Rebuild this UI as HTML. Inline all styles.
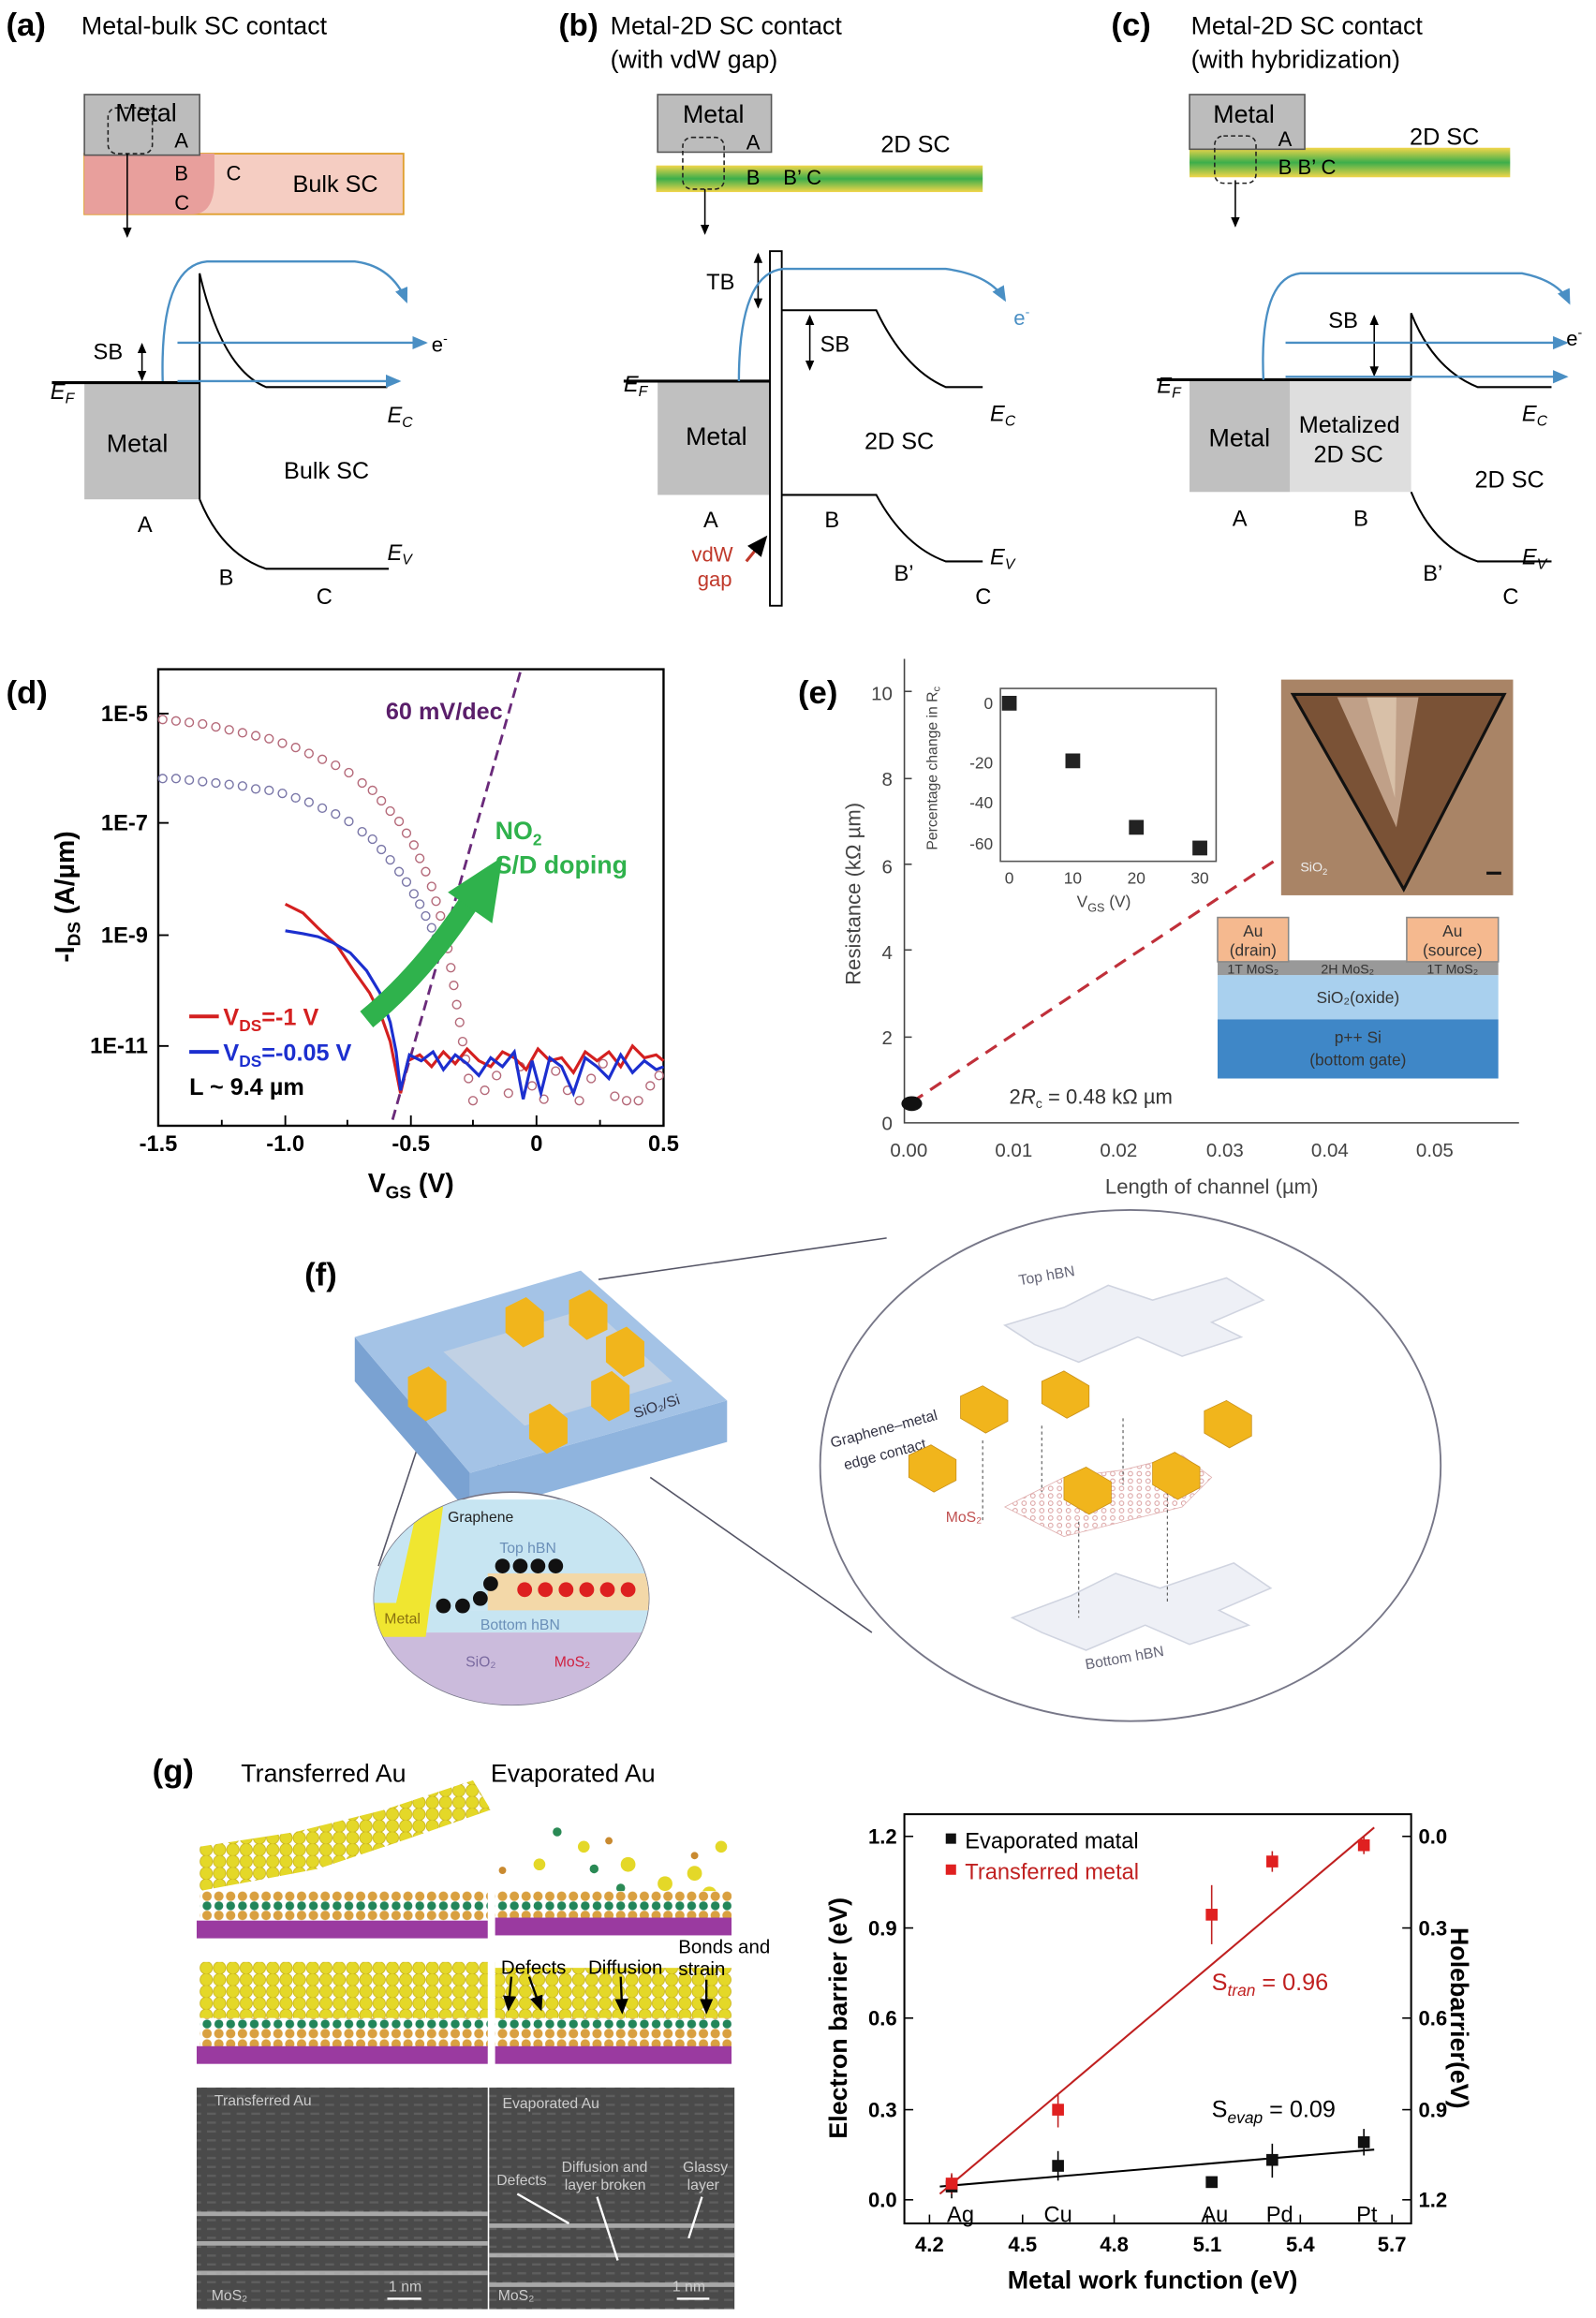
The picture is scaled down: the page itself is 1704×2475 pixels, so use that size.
<!DOCTYPE html>
<html><head><meta charset="utf-8"><style>
html,body{margin:0;padding:0;background:#fff}
svg{display:block}
text{font-family:"Liberation Sans",Arial,sans-serif}
</style></head><body>
<svg width="1704" height="2475" viewBox="0 0 1080 1569" xmlns="http://www.w3.org/2000/svg">
<defs>
<linearGradient id="g2d" x1="0" y1="0" x2="0" y2="1">
<stop offset="0" stop-color="#f2d64a"/><stop offset="0.5" stop-color="#3cae4b"/><stop offset="1" stop-color="#f2d64a"/></linearGradient>
<marker id="ah" markerWidth="8" markerHeight="8" refX="6" refY="3" orient="auto"><path d="M0,0 L7,3 L0,6 z" fill="#000"/></marker>
<marker id="ahb" markerWidth="8" markerHeight="8" refX="6" refY="3" orient="auto"><path d="M0,0 L7,3 L0,6 z" fill="#4a8fc4"/></marker>
<marker id="ahs" markerWidth="8" markerHeight="8" refX="1" refY="3" orient="auto"><path d="M7,0 L0,3 L7,6 z" fill="#000"/></marker>
<marker id="cr" markerWidth="8" markerHeight="8" refX="4" refY="4"><circle cx="4" cy="4" r="2.8" fill="none" stroke="#b56a7a" stroke-width="0.9"/></marker>
<marker id="cb" markerWidth="8" markerHeight="8" refX="4" refY="4"><circle cx="4" cy="4" r="2.8" fill="none" stroke="#7a77a8" stroke-width="0.9"/></marker>
<pattern id="gold" width="9" height="8" patternUnits="userSpaceOnUse"><rect width="9" height="8" fill="#fff"/><circle cx="4.5" cy="4" r="4.2" fill="#e4d828" stroke="#c7b21a" stroke-width="0.5"/></pattern>
<pattern id="mos" width="8" height="20" patternUnits="userSpaceOnUse"><rect width="8" height="20" fill="#fff"/><circle cx="4" cy="3.5" r="3.2" fill="#d9a040"/><circle cx="4" cy="10" r="3" fill="#22855a"/><circle cx="4" cy="16.5" r="3.2" fill="#d9a040"/></pattern>
<pattern id="tem" width="10" height="6" patternUnits="userSpaceOnUse"><rect width="10" height="6" fill="#4a4a4a"/><rect x="0" y="2" width="6" height="1.5" fill="#5e5e5e"/></pattern>
<pattern id="hexr" width="6" height="5" patternUnits="userSpaceOnUse"><circle cx="3" cy="2.5" r="1.5" fill="none" stroke="#d89a9a" stroke-width="0.6"/></pattern>
<clipPath id="sc"><ellipse cx="346" cy="1082" rx="93" ry="72"/></clipPath>
</defs>
<rect width="1080" height="1569" fill="#fff"/>

<!-- ===== (a) ===== -->
<text x="4" y="24" font-size="22" font-weight="bold">(a)</text>
<text x="55" y="23" font-size="17">Metal-bulk SC contact</text>
<rect x="57" y="104" width="216" height="41" fill="#f5cdc2" stroke="#e0a030" stroke-width="1.2"/>
<path d="M57,104 H145 V122 Q145,145 130,145 H57 Z" fill="#e89f9c"/>
<rect x="57" y="64" width="78" height="41" fill="#bcbcbc" stroke="#555" stroke-width="1"/>
<rect x="73" y="73" width="30" height="31" rx="6" fill="none" stroke="#222" stroke-dasharray="3,2"/>
<line x1="86" y1="104" x2="86" y2="160" stroke="#000" marker-end="url(#ah)"/>
<text x="78" y="82" font-size="17">Metal</text>
<text x="118" y="100" font-size="14">A</text><text x="118" y="122" font-size="14">B</text><text x="118" y="142" font-size="14">C</text>
<text x="153" y="122" font-size="14">C</text><text x="198" y="130" font-size="16">Bulk SC</text>
<rect x="57" y="259" width="78" height="79" fill="#c0c0c0"/>
<line x1="35" y1="259" x2="135" y2="259" stroke="#000" stroke-width="2"/>
<path d="M135,338 V185 Q150,250 180,262 H262" fill="none" stroke="#000" stroke-width="1.3"/>
<path d="M135,338 Q150,375 180,385 H263" fill="none" stroke="#000" stroke-width="1.3"/>
<line x1="96" y1="233" x2="96" y2="257" stroke="#000" marker-end="url(#ah)" marker-start="url(#ahs)"/>
<path d="M110,258 Q108,180 140,177 L240,177 Q265,180 275,204" fill="none" stroke="#4a8fc4" stroke-width="1.5" marker-end="url(#ahb)"/>
<line x1="120" y1="232" x2="288" y2="232" stroke="#4a8fc4" stroke-width="1.5" marker-end="url(#ahb)"/>
<line x1="120" y1="258" x2="270" y2="258" stroke="#4a8fc4" stroke-width="1.5" marker-end="url(#ahb)"/>
<text x="63" y="243" font-size="15">SB</text>
<text x="34" y="270" font-size="15" font-style="italic">E<tspan font-size="10" dy="3">F</tspan></text>
<text x="292" y="238" font-size="14">e<tspan font-size="9" dy="-6">-</tspan></text>
<text x="72" y="306" font-size="17">Metal</text>
<text x="192" y="324" font-size="16">Bulk SC</text>
<text x="262" y="286" font-size="15" font-style="italic">E<tspan font-size="10" dy="3">C</tspan></text>
<text x="262" y="379" font-size="15" font-style="italic">E<tspan font-size="10" dy="3">V</tspan></text>
<text x="93" y="360" font-size="15">A</text><text x="148" y="396" font-size="15">B</text><text x="214" y="409" font-size="15">C</text>

<!-- ===== (b) ===== -->
<text x="378" y="24" font-size="21" font-weight="bold">(b)</text>
<text x="413" y="23" font-size="17">Metal-2D SC contact</text>
<text x="413" y="46" font-size="17">(with vdW gap)</text>
<rect x="444" y="112" width="221" height="18" fill="url(#g2d)"/>
<rect x="445" y="64" width="77" height="39" fill="#bcbcbc" stroke="#555"/>
<rect x="462" y="93" width="28" height="35" rx="6" fill="none" stroke="#222" stroke-dasharray="3,2"/>
<line x1="477" y1="128" x2="477" y2="158" stroke="#000" marker-end="url(#ah)"/>
<text x="462" y="83" font-size="17">Metal</text>
<text x="505" y="101" font-size="14">A</text><text x="505" y="125" font-size="14">B</text><text x="530" y="125" font-size="14">B’ C</text>
<text x="596" y="103" font-size="16">2D SC</text>
<rect x="445" y="258" width="77" height="77" fill="#c0c0c0"/>
<line x1="422" y1="258" x2="522" y2="258" stroke="#000" stroke-width="2"/>
<rect x="521" y="170" width="8" height="240" fill="#fff" stroke="#000" stroke-width="1.2"/>
<path d="M529,210 H593 Q612,250 640,262 H665" fill="none" stroke="#000" stroke-width="1.3"/>
<path d="M529,335 H593 Q612,370 640,380 H665" fill="none" stroke="#000" stroke-width="1.3"/>
<line x1="513" y1="172" x2="513" y2="208" stroke="#000" marker-end="url(#ah)" marker-start="url(#ahs)"/>
<line x1="548" y1="214" x2="548" y2="250" stroke="#000" marker-end="url(#ah)" marker-start="url(#ahs)"/>
<path d="M500,258 Q500,185 530,182 L640,182 Q670,186 680,203" fill="none" stroke="#4a8fc4" stroke-width="1.5" marker-end="url(#ahb)"/>
<text x="478" y="196" font-size="15">TB</text>
<text x="555" y="238" font-size="15">SB</text>
<text x="686" y="220" font-size="14" fill="#4a8fc4">e<tspan font-size="9" dy="-6">-</tspan></text>
<text x="422" y="265" font-size="15" font-style="italic">E<tspan font-size="10" dy="3">F</tspan></text>
<text x="464" y="301" font-size="17">Metal</text>
<text x="585" y="304" font-size="16">2D SC</text>
<text x="670" y="285" font-size="15" font-style="italic">E<tspan font-size="10" dy="3">C</tspan></text>
<text x="670" y="382" font-size="15" font-style="italic">E<tspan font-size="10" dy="3">V</tspan></text>
<text x="476" y="357" font-size="15">A</text><text x="558" y="357" font-size="15">B</text><text x="605" y="393" font-size="15">B’</text><text x="660" y="409" font-size="15">C</text>
<line x1="505" y1="380" x2="518" y2="364" stroke="#c0392b" stroke-width="2" marker-end="url(#ah)"/>
<text x="468" y="380" font-size="14" fill="#c0392b">vdW</text><text x="472" y="397" font-size="14" fill="#c0392b">gap</text>

<!-- ===== (c) ===== -->
<text x="752" y="24" font-size="22" font-weight="bold">(c)</text>
<text x="806" y="23" font-size="17">Metal-2D SC contact</text>
<text x="806" y="46" font-size="17">(with hybridization)</text>
<rect x="805" y="100" width="217" height="20" fill="url(#g2d)"/>
<rect x="805" y="64" width="78" height="37" fill="#bcbcbc" stroke="#555"/>
<rect x="822" y="92" width="28" height="32" rx="6" fill="none" stroke="#222" stroke-dasharray="3,2"/>
<line x1="836" y1="122" x2="836" y2="153" stroke="#000" marker-end="url(#ah)"/>
<text x="821" y="83" font-size="17">Metal</text>
<text x="865" y="99" font-size="14">A</text><text x="865" y="118" font-size="14">B B’ C</text>
<text x="954" y="98" font-size="16">2D SC</text>
<rect x="805" y="257" width="68" height="76" fill="#c0c0c0"/>
<rect x="873" y="257" width="82" height="76" fill="#dedede"/>
<line x1="783" y1="257" x2="955" y2="257" stroke="#000" stroke-width="2"/>
<path d="M955,257 V212 Q970,250 1000,262 H1050" fill="none" stroke="#000" stroke-width="1.3"/>
<path d="M955,333 Q970,370 1000,380 H1050" fill="none" stroke="#000" stroke-width="1.3"/>
<line x1="930" y1="214" x2="930" y2="254" stroke="#000" marker-end="url(#ah)" marker-start="url(#ahs)"/>
<path d="M855,257 Q852,188 880,185 L1030,185 Q1055,190 1062,205" fill="none" stroke="#4a8fc4" stroke-width="1.5" marker-end="url(#ahb)"/>
<line x1="870" y1="232" x2="1060" y2="232" stroke="#4a8fc4" stroke-width="1.5" marker-end="url(#ahb)"/>
<line x1="870" y1="255" x2="1060" y2="255" stroke="#4a8fc4" stroke-width="1.5" marker-end="url(#ahb)"/>
<text x="899" y="222" font-size="15">SB</text>
<text x="1060" y="234" font-size="14">e<tspan font-size="9" dy="-6">-</tspan></text>
<text x="783" y="266" font-size="15" font-style="italic">E<tspan font-size="10" dy="3">F</tspan></text>
<text x="818" y="302" font-size="17">Metal</text>
<text x="879" y="293" font-size="16">Metalized</text><text x="889" y="313" font-size="16">2D SC</text>
<text x="998" y="330" font-size="16">2D SC</text>
<text x="1030" y="285" font-size="15" font-style="italic">E<tspan font-size="10" dy="3">C</tspan></text>
<text x="1030" y="382" font-size="15" font-style="italic">E<tspan font-size="10" dy="3">V</tspan></text>
<text x="834" y="356" font-size="15">A</text><text x="916" y="356" font-size="15">B</text><text x="963" y="393" font-size="15">B’</text><text x="1017" y="409" font-size="15">C</text>

<!-- ===== (d) ===== -->
<text x="4" y="476" font-size="22" font-weight="bold">(d)</text>
<rect x="107" y="453" width="342" height="309" fill="none" stroke="#000" stroke-width="1.5"/>
<g stroke="#000" stroke-width="1.2">
<line x1="193" y1="762" x2="193" y2="755"/><line x1="278" y1="762" x2="278" y2="755"/><line x1="363" y1="762" x2="363" y2="755"/>
<line x1="150" y1="762" x2="150" y2="758"/><line x1="235" y1="762" x2="235" y2="758"/><line x1="320" y1="762" x2="320" y2="758"/><line x1="406" y1="762" x2="406" y2="758"/>
<line x1="107" y1="483" x2="114" y2="483"/><line x1="107" y1="557" x2="114" y2="557"/><line x1="107" y1="633" x2="114" y2="633"/><line x1="107" y1="708" x2="114" y2="708"/>
</g>
<g font-size="15" font-weight="bold" text-anchor="end">
<text x="100" y="488">1E-5</text><text x="100" y="562">1E-7</text><text x="100" y="638">1E-9</text><text x="100" y="713">1E-11</text></g>
<g font-size="15" font-weight="bold" text-anchor="middle">
<text x="107" y="779">-1.5</text><text x="193" y="779">-1.0</text><text x="278" y="779">-0.5</text><text x="363" y="779">0</text><text x="449" y="779">0.5</text></g>
<text x="278" y="807" font-size="18" font-weight="bold" text-anchor="middle">V<tspan font-size="12" dy="4">GS</tspan><tspan dy="-4"> (V)</tspan></text>
<text transform="translate(50,607) rotate(-90)" font-size="18" font-weight="bold" text-anchor="middle">-I<tspan font-size="12" dy="4">DS</tspan><tspan dy="-4"> (A/µm)</tspan></text>
<line x1="352" y1="455" x2="265" y2="760" stroke="#6a2a7a" stroke-width="1.8" stroke-dasharray="7,4"/>
<text x="261" y="487" font-size="16" font-weight="bold" fill="#5a1e6a">60 mV/dec</text>
<polyline fill="none" stroke="none" marker-start="url(#cr)" marker-mid="url(#cr)" marker-end="url(#cr)" points="110,487 119,488 128,489 137,490 146,492 155,494 164,496 173,498 182,500 191,503 200,506 209,510 218,514 227,518 236,523 245,530 252,535 258,542 264,549 270,556 275,564 280,572 284,581 288,590 292,600 295,610 298,620 300,630 303,642 305,655 307,667 309,680 311,692 313,705 315,717 317,730 320,745"/>
<polyline fill="none" stroke="none" marker-start="url(#cb)" marker-mid="url(#cb)" marker-end="url(#cb)" points="110,527 119,527 128,528 137,529 146,530 155,531 164,532 173,534 182,535 191,537 200,540 209,543 218,547 227,551 236,556 245,563 252,568 258,575 264,582 270,590 275,597 280,605 284,612 288,620 292,628 295,635"/>
<polyline fill="none" stroke="none" marker-start="url(#cr)" marker-mid="url(#cr)" marker-end="url(#cr)" points="328,738 336,728 344,740 352,722 360,735 368,744 376,725 384,738 392,745 400,730 408,720 416,742 424,745 432,745 440,735 446,728"/>
<polyline fill="none" stroke="#d42020" stroke-width="2" points="193,612 205,618 215,628 228,640 240,658 250,672 258,688 264,705 268,725 271,740 276,718 284,714 292,722 300,712 308,720 316,710 324,718 332,722 340,712 348,716 356,724 364,710 372,718 380,716 388,726 396,712 404,718 412,712 420,722 428,708 436,716 444,714 449,718"/>
<polyline fill="none" stroke="#1c2fcf" stroke-width="2" points="193,630 205,632 215,634 225,638 237,645 248,657 257,672 264,692 268,712 271,738 277,714 285,718 293,712 300,724 308,714 316,720 324,728 332,716 340,722 348,712 354,744 360,718 366,740 372,716 380,722 388,740 396,716 404,722 412,730 420,714 428,726 436,718 444,724 449,722"/>
<path d="M248,690 Q285,660 318,610" fill="none" stroke="#2fb24c" stroke-width="14"/>
<path d="M303,604 L340,580 L333,625 Z" fill="#2fb24c"/>
<text x="335" y="568" font-size="17" font-weight="bold" fill="#2fb24c">NO<tspan font-size="11" dy="4">2</tspan></text>
<text x="335" y="591" font-size="17" font-weight="bold" fill="#2fb24c">S/D doping</text>
<line x1="128" y1="688" x2="148" y2="688" stroke="#d42020" stroke-width="2.5"/>
<text x="151" y="694" font-size="16" font-weight="bold" fill="#d42020">V<tspan font-size="11" dy="4">DS</tspan><tspan dy="-4">=-1 V</tspan></text>
<line x1="128" y1="712" x2="148" y2="712" stroke="#1c2fcf" stroke-width="2.5"/>
<text x="151" y="718" font-size="16" font-weight="bold" fill="#1c2fcf">V<tspan font-size="11" dy="4">DS</tspan><tspan dy="-4">=-0.05 V</tspan></text>
<text x="128" y="741" font-size="16" font-weight="bold">L ~ 9.4 µm</text>

<!-- ===== (e) ===== -->
<text x="540" y="476" font-size="22" font-weight="bold">(e)</text>
<path d="M612,446 V760 H1028" fill="none" stroke="#444" stroke-width="1"/>
<g font-size="13" fill="#444" text-anchor="end">
<text x="604" y="765">0</text><text x="604" y="707">2</text><text x="604" y="649">4</text><text x="604" y="591">6</text><text x="604" y="532">8</text><text x="604" y="474">10</text></g>
<g stroke="#444"><line x1="612" y1="702" x2="617" y2="702"/><line x1="612" y1="643" x2="617" y2="643"/><line x1="612" y1="585" x2="617" y2="585"/><line x1="612" y1="527" x2="617" y2="527"/><line x1="612" y1="468" x2="617" y2="468"/></g>
<g font-size="13" fill="#444" text-anchor="middle">
<text x="615" y="783">0.00</text><text x="686" y="783">0.01</text><text x="757" y="783">0.02</text><text x="829" y="783">0.03</text><text x="900" y="783">0.04</text><text x="971" y="783">0.05</text></g>
<text x="820" y="808" font-size="14" fill="#444" text-anchor="middle">Length of channel (µm)</text>
<text transform="translate(582,605) rotate(-90)" font-size="14" fill="#444" text-anchor="middle">Resistance (kΩ µm)</text>
<line x1="617" y1="746" x2="862" y2="583" stroke="#c0303a" stroke-width="2" stroke-dasharray="9,6"/>
<ellipse cx="617" cy="747" rx="7" ry="5" fill="#111"/>
<text x="683" y="747" font-size="14" fill="#333">2<tspan font-style="italic">R</tspan><tspan font-size="9" dy="3">c</tspan><tspan dy="-3"> = 0.48 kΩ µm</tspan></text>
<rect x="677" y="466" width="146" height="117" fill="#fff" stroke="#555"/>
<g font-size="11" fill="#444" text-anchor="end"><text x="672" y="480">0</text><text x="672" y="520">-20</text><text x="672" y="547">-40</text><text x="672" y="575">-60</text></g>
<g font-size="11" fill="#444" text-anchor="middle"><text x="683" y="598">0</text><text x="726" y="598">10</text><text x="769" y="598">20</text><text x="812" y="598">30</text></g>
<text x="747" y="614" font-size="11" fill="#444" text-anchor="middle">V<tspan font-size="8" dy="3">GS</tspan><tspan dy="-3"> (V)</tspan></text>
<text transform="translate(634,520) rotate(-90)" font-size="10" fill="#444" text-anchor="middle">Percentage change in R<tspan font-size="7" dy="2">c</tspan></text>
<g fill="#222"><rect x="678" y="471" width="10" height="10"/><rect x="721" y="510" width="10" height="10"/><rect x="764" y="555" width="10" height="10"/><rect x="807" y="569" width="10" height="10"/></g>
<rect x="867" y="460" width="157" height="146" fill="#a98466"/>
<path d="M875,470 L1018,470 L950,602 Z" fill="#7a5236" stroke="#111" stroke-width="2"/>
<path d="M905,472 L960,472 L945,560 Z" fill="#c0a088"/>
<path d="M925,472 L945,472 L944,540 Z" fill="#d8c0a8"/>
<text x="880" y="590" font-size="9" fill="#eee">SiO<tspan font-size="6" dy="2">2</tspan></text>
<rect x="1006" y="590" width="10" height="2" fill="#111"/>
<rect x="824" y="660" width="190" height="30" fill="#a9d0ee"/>
<rect x="824" y="690" width="190" height="40" fill="#3f87c7"/>
<rect x="824" y="650" width="190" height="10" fill="#999"/>
<rect x="824" y="621" width="48" height="30" fill="#f5b98f" stroke="#888"/>
<rect x="952" y="621" width="62" height="30" fill="#f5b98f" stroke="#888"/>
<g font-size="11" fill="#333" text-anchor="middle"><text x="848" y="634">Au</text><text x="848" y="647">(drain)</text><text x="983" y="634">Au</text><text x="983" y="647">(source)</text>
<text x="848" y="659" font-size="9">1T MoS₂</text><text x="912" y="659" font-size="9">2H MoS₂</text><text x="983" y="659" font-size="9">1T MoS₂</text>
<text x="919" y="679">SiO₂(oxide)</text><text x="919" y="706">p++ Si</text><text x="919" y="721">(bottom gate)</text></g>

<!-- ===== (f) ===== -->
<text x="206" y="870" font-size="22" font-weight="bold">(f)</text>
<line x1="405" y1="866" x2="600" y2="838" stroke="#556" stroke-width="1"/>
<line x1="440" y1="1000" x2="590" y2="1105" stroke="#556" stroke-width="1"/>
<line x1="298" y1="933" x2="256" y2="1060" stroke="#556" stroke-width="1"/>
<line x1="305" y1="940" x2="420" y2="1125" stroke="#556" stroke-width="1"/>
<polygon points="240,905 240,935 318,1025 318,997" fill="#7aa2d2"/>
<polygon points="318,997 492,948 492,976 318,1025" fill="#8fb4de"/>
<polygon points="240,905 393,860 492,948 318,997" fill="#a4c3e6"/>
<polygon points="300,915 400,885 455,935 355,965" fill="#c8d4e4" opacity="0.8"/>
<g>
<polygon points="276,932 290,925 302,935 302,955 288,962 276,952" fill="#f1b51c"/>
<polygon points="342,885 356,878 368,888 368,905 354,912 342,902" fill="#f1b51c"/>
<polygon points="385,880 399,873 411,883 411,900 397,907 385,897" fill="#f1b51c"/>
<polygon points="410,905 424,898 436,908 436,925 422,932 410,922" fill="#f1b51c"/>
<polygon points="358,957 372,950 384,960 384,977 370,984 358,974" fill="#f1b51c"/>
<polygon points="400,935 414,928 426,938 426,955 412,962 400,952" fill="#f1b51c"/>
</g>
<text x="430" y="960" font-size="10" fill="#334" transform="rotate(-18 430 960)">SiO₂/Si</text>
<ellipse cx="765" cy="992" rx="210" ry="173" fill="#fff" stroke="#778" stroke-width="1.2"/>
<text x="690" y="870" font-size="10" fill="#667" transform="rotate(-10 690 870)">Top hBN</text>
<path d="M680,897 L720,885 L750,870 L780,880 L830,865 L855,880 L820,895 L840,905 L800,918 L770,905 L730,922 L700,910 Z" fill="#eef0f6" stroke="#d0d4e0"/>
<path d="M685,1095 L725,1080 L755,1065 L785,1075 L835,1058 L860,1075 L825,1090 L845,1100 L805,1113 L775,1100 L735,1117 L705,1105 Z" fill="#eef0f6" stroke="#d0d4e0"/>
<text x="735" y="1130" font-size="10" fill="#667" transform="rotate(-10 735 1130)">Bottom hBN</text>
<path d="M680,1020 L720,1000 L760,995 L800,985 L820,1000 L800,1020 L760,1030 L720,1040 Z" fill="url(#hexr)" stroke="#e0b0b0" stroke-width="0.5"/>
<text x="640" y="1030" font-size="10" fill="#c05050">MoS₂</text>
<text x="563" y="980" font-size="10" fill="#334" transform="rotate(-15 563 980)">Graphene–metal</text>
<text x="572" y="995" font-size="10" fill="#334" transform="rotate(-15 572 995)">edge contact</text>
<g stroke="#555" stroke-dasharray="2,2" stroke-width="0.7">
<line x1="665" y1="975" x2="665" y2="1030"/><line x1="705" y1="965" x2="705" y2="1010"/><line x1="730" y1="1030" x2="730" y2="1095"/><line x1="760" y1="960" x2="760" y2="1005"/><line x1="790" y1="1010" x2="790" y2="1085"/></g>
<g fill="#f1b51c" stroke="#c8901a" stroke-width="0.5">
<polygon points="650,945 665,938 682,948 682,962 667,970 650,960"/>
<polygon points="705,935 720,928 737,938 737,952 722,960 705,950"/>
<polygon points="615,985 630,978 647,988 647,1002 632,1010 615,1000"/>
<polygon points="720,1000 735,993 752,1003 752,1017 737,1025 720,1015"/>
<polygon points="780,990 795,983 812,993 812,1007 797,1015 780,1005"/>
<polygon points="815,955 830,948 847,958 847,972 832,980 815,970"/></g>
<ellipse cx="346" cy="1082" rx="93" ry="72" fill="#fff" stroke="#778"/>
<g clip-path="url(#sc)">
<rect x="250" y="1015" width="200" height="75" fill="#c7e5f2"/>
<rect x="250" y="1090" width="200" height="15" fill="#c7e5f2"/>
<rect x="250" y="1105" width="200" height="55" fill="#cbbbdc"/>
<polygon points="253,1085 268,1085 283,1018 300,1018 288,1108 253,1108" fill="#f0e630"/>
<rect x="330" y="1065" width="110" height="25" fill="#f3d8a8"/>
<g fill="#111"><circle cx="300" cy="1087" r="5"/><circle cx="313" cy="1087" r="5"/><circle cx="325" cy="1082" r="5"/><circle cx="332" cy="1072" r="5"/><circle cx="340" cy="1060" r="5"/><circle cx="352" cy="1060" r="5"/><circle cx="364" cy="1060" r="5"/><circle cx="376" cy="1060" r="5"/></g>
<g fill="#dd2020"><circle cx="355" cy="1076" r="5"/><circle cx="369" cy="1076" r="5"/><circle cx="383" cy="1076" r="5"/><circle cx="397" cy="1076" r="5"/><circle cx="411" cy="1076" r="5"/><circle cx="425" cy="1076" r="5"/></g>
</g>
<text x="303" y="1030" font-size="10" fill="#222">Graphene</text>
<text x="338" y="1051" font-size="10" fill="#6a8fb8">Top hBN</text>
<text x="260" y="1099" font-size="10" fill="#887010">Metal</text>
<text x="325" y="1103" font-size="10" fill="#6a8fb8">Bottom hBN</text>
<text x="315" y="1128" font-size="10" fill="#7a6aa0">SiO₂</text>
<text x="375" y="1128" font-size="10" fill="#d02040">MoS₂</text>

<!-- ===== (g) ===== -->
<text x="103" y="1206" font-size="22" font-weight="bold">(g)</text>
<text x="163" y="1206" font-size="17">Transferred Au</text>
<text x="332" y="1206" font-size="17">Evaporated Au</text>
<polygon points="135,1250 200,1240 260,1225 320,1205 332,1225 275,1245 215,1265 135,1280" fill="url(#gold)"/>
<rect x="135" y="1280" width="195" height="20" fill="url(#mos)"/>
<rect x="133" y="1300" width="197" height="12" fill="#9a3aa0"/>
<rect x="135" y="1328" width="195" height="38" fill="url(#gold)"/>
<rect x="135" y="1366" width="195" height="20" fill="url(#mos)"/>
<rect x="133" y="1385" width="197" height="12" fill="#9a3aa0"/>
<g fill="#e4d828"><circle cx="365" cy="1262" r="4"/><circle cx="395" cy="1250" r="4"/><circle cx="425" cy="1262" r="5"/><circle cx="450" cy="1275" r="5"/><circle cx="470" cy="1268" r="5"/><circle cx="488" cy="1250" r="4"/><circle cx="415" cy="1290" r="6"/><circle cx="450" cy="1290" r="6"/><circle cx="342" cy="1286" r="5"/><circle cx="480" cy="1282" r="5"/></g>
<g fill="#2a8a55"><circle cx="377" cy="1240" r="3"/><circle cx="402" cy="1265" r="3"/><circle cx="420" cy="1278" r="3"/></g>
<g fill="#c98a30"><circle cx="340" cy="1266" r="2.5"/><circle cx="412" cy="1246" r="2.5"/><circle cx="470" cy="1256" r="2.5"/></g>
<rect x="335" y="1280" width="160" height="20" fill="url(#mos)"/>
<rect x="335" y="1298" width="160" height="12" fill="#9a3aa0"/>
<rect x="335" y="1328" width="160" height="38" fill="url(#gold)"/>
<rect x="335" y="1366" width="160" height="20" fill="url(#mos)"/>
<rect x="335" y="1385" width="160" height="12" fill="#9a3aa0"/>
<rect x="335" y="1318" width="160" height="14" fill="#fff"/>
<g font-size="13"><text x="339" y="1336">Defects</text><text x="398" y="1336">Diffusion</text><text x="459" y="1322">Bonds and</text><text x="459" y="1337">strain</text></g>
<g stroke="#000" stroke-width="1.5"><line x1="346" y1="1338" x2="344" y2="1360" marker-end="url(#ah)"/><line x1="358" y1="1338" x2="366" y2="1360" marker-end="url(#ah)"/><line x1="420" y1="1338" x2="421" y2="1362" marker-end="url(#ah)"/><line x1="478" y1="1340" x2="478" y2="1362" marker-end="url(#ah)"/></g>
<rect x="133" y="1413" width="197" height="150" fill="url(#tem)"/>
<rect x="331" y="1413" width="166" height="150" fill="url(#tem)"/>
<g fill="#c8c8c8" opacity="0.75"><rect x="133" y="1497" width="197" height="3"/><rect x="133" y="1517" width="197" height="3"/><rect x="133" y="1537" width="197" height="3"/><rect x="331" y="1505" width="166" height="3"/><rect x="331" y="1525" width="166" height="3"/><rect x="331" y="1545" width="166" height="3"/></g>
<g font-size="10" fill="#ccc"><text x="145" y="1425">Transferred Au</text><text x="340" y="1427">Evaporated Au</text><text x="336" y="1479">Defects</text><text x="380" y="1470">Diffusion and</text><text x="382" y="1482">layer broken</text><text x="462" y="1470">Glassy</text><text x="465" y="1482">layer</text><text x="143" y="1557">MoS₂</text><text x="337" y="1557">MoS₂</text><text x="263" y="1551">1 nm</text><text x="455" y="1551">1 nm</text></g>
<g stroke="#fff" stroke-width="1.5"><line x1="350" y1="1485" x2="385" y2="1505"/><line x1="404" y1="1487" x2="418" y2="1530"/><line x1="475" y1="1487" x2="466" y2="1515"/><line x1="262" y1="1556" x2="285" y2="1556"/><line x1="458" y1="1556" x2="480" y2="1556"/></g>

<rect x="612" y="1228" width="343" height="277" fill="none" stroke="#000" stroke-width="1.3"/>
<g stroke="#000"><line x1="629" y1="1505" x2="629" y2="1499"/><line x1="692" y1="1505" x2="692" y2="1499"/><line x1="754" y1="1505" x2="754" y2="1499"/><line x1="817" y1="1505" x2="817" y2="1499"/><line x1="880" y1="1505" x2="880" y2="1499"/><line x1="942" y1="1505" x2="942" y2="1499"/>
<line x1="612" y1="1489" x2="618" y2="1489"/><line x1="612" y1="1428" x2="618" y2="1428"/><line x1="612" y1="1366" x2="618" y2="1366"/><line x1="612" y1="1305" x2="618" y2="1305"/><line x1="612" y1="1243" x2="618" y2="1243"/>
<line x1="955" y1="1489" x2="949" y2="1489"/><line x1="955" y1="1428" x2="949" y2="1428"/><line x1="955" y1="1366" x2="949" y2="1366"/><line x1="955" y1="1305" x2="949" y2="1305"/><line x1="955" y1="1243" x2="949" y2="1243"/></g>
<g font-size="14" font-weight="bold" text-anchor="end"><text x="607" y="1494">0.0</text><text x="607" y="1433">0.3</text><text x="607" y="1371">0.6</text><text x="607" y="1310">0.9</text><text x="607" y="1248">1.2</text></g>
<g font-size="14" font-weight="bold"><text x="960" y="1248">0.0</text><text x="960" y="1310">0.3</text><text x="960" y="1371">0.6</text><text x="960" y="1433">0.9</text><text x="960" y="1494">1.2</text></g>
<g font-size="14" font-weight="bold" text-anchor="middle"><text x="629" y="1524">4.2</text><text x="692" y="1524">4.5</text><text x="754" y="1524">4.8</text><text x="817" y="1524">5.1</text><text x="880" y="1524">5.4</text><text x="942" y="1524">5.7</text></g>
<text x="780" y="1549" font-size="17" font-weight="bold" text-anchor="middle">Metal work function (eV)</text>
<text transform="translate(573,1366) rotate(-90)" font-size="17" font-weight="bold" text-anchor="middle">Electron barrier (eV)</text>
<text transform="translate(982,1366) rotate(90)" font-size="17" font-weight="bold" text-anchor="middle">Holebarrier(eV)</text>
<g font-size="15" text-anchor="middle"><text x="650" y="1504">Ag</text><text x="716" y="1504">Cu</text><text x="822" y="1504">Au</text><text x="866" y="1504">Pd</text><text x="925" y="1504">Pt</text></g>
<line x1="636" y1="1485" x2="930" y2="1237" stroke="#c02020" stroke-width="1.3"/>
<line x1="636" y1="1480" x2="930" y2="1455" stroke="#000" stroke-width="1.3"/>
<g stroke="#000"><line x1="644" y1="1472" x2="644" y2="1488"/><line x1="716" y1="1456" x2="716" y2="1476"/><line x1="861" y1="1451" x2="861" y2="1474"/><line x1="923" y1="1441" x2="923" y2="1459"/></g>
<g stroke="#c02020"><line x1="644" y1="1471" x2="644" y2="1485"/><line x1="716" y1="1417" x2="716" y2="1440"/><line x1="820" y1="1276" x2="820" y2="1316"/><line x1="861" y1="1253" x2="861" y2="1267"/><line x1="923" y1="1243" x2="923" y2="1255"/></g>
<g fill="#111"><rect x="640" y="1476" width="8" height="8"/><rect x="712" y="1462" width="8" height="8"/><rect x="816" y="1473" width="8" height="8"/><rect x="857" y="1458" width="8" height="8"/><rect x="919" y="1446" width="8" height="8"/></g>
<g fill="#e02020"><rect x="640" y="1474" width="8" height="8"/><rect x="712" y="1424" width="8" height="8"/><rect x="816" y="1292" width="8" height="8"/><rect x="857" y="1256" width="8" height="8"/><rect x="919" y="1245" width="8" height="8"/></g>
<rect x="640" y="1241" width="7" height="7" fill="#111"/><text x="653" y="1251" font-size="15">Evaporated  matal</text>
<rect x="640" y="1262" width="7" height="7" fill="#e02020"/><text x="653" y="1272" font-size="15" fill="#c02020">Transferred metal</text>
<text x="820" y="1347" font-size="16" fill="#c02020">S<tspan font-size="11" dy="4" font-style="italic">tran</tspan><tspan dy="-4"> = 0.96</tspan></text>
<text x="820" y="1433" font-size="16">S<tspan font-size="11" dy="4" font-style="italic">evap</tspan><tspan dy="-4"> = 0.09</tspan></text>
</svg>
</body></html>
